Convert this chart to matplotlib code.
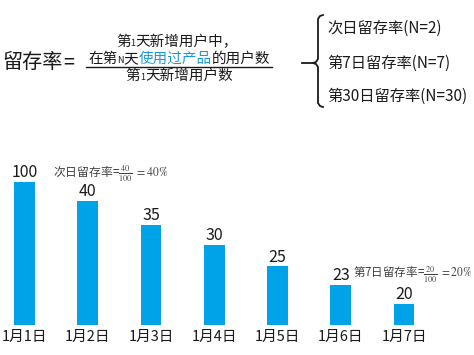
import matplotlib
matplotlib.use("Agg")
import matplotlib.pyplot as plt
from matplotlib.lines import Line2D

plt.rcParams['font.family'] = ['Noto Sans CJK SC', 'DejaVu Sans']
plt.rcParams['mathtext.fontset'] = 'stix'

# ==================== Dados ====================
dias = ["1月1日", "1月2日", "1月3日", "1月4日", "1月5日", "1月6日", "1月7日"]
usuarios = [100, 40, 35, 30, 25, 23, 20]              # rótulos em cima das barras
alturas = [100, 87, 70, 56, 41, 28, 15]               # altura desenhada
tipos = ["次日留存率(N=2)", "第7日留存率(N=7)", "第30日留存率(N=30)"]

W, H = 474, 355
azul = "#00a2e8"
escuro = "#1a1a1a"

fig = plt.figure(figsize=(W / 100, H / 100), dpi=100)


def px(x, y):
    return x / W, 1 - y / H


# ---------- gráfico de barras ----------
# eixo: x=0 em 24.5px, 63.25px por unidade; y=0 em 325px, 1.43px por unidade
ax = fig.add_axes([0, (H - 325) / H, 1, 175 / H])
ax.bar(range(len(dias)), alturas, width=0.33, color=azul)
for i, (a, v) in enumerate(zip(alturas, usuarios)):
    ax.annotate(str(v), (i, a), xytext=(0, 0.5), textcoords="offset points",
                ha="center", va="bottom", fontsize=11.5, color=escuro)
ax.set_xlim(-24.5 / 63.25, (W - 24.5) / 63.25)
ax.set_ylim(0, 175 / 1.43)
ax.axis("off")
for i, d in enumerate(dias):
    ax.text(i, -8.5, d, ha="center", va="center", fontsize=10.5, color=escuro)

ax.text(53 / 63.25 - 24.5 / 63.25, (325 - 174) / 1.43,
        r"次日留存率=$\frac{40}{100}$ $= 40\%$", fontsize=8.5, color="#404040",
        ha="left", va="center")
ax.text(353 / 63.25 - 24.5 / 63.25, (325 - 275) / 1.43,
        r"第7日留存率=$\frac{20}{100}$ $= 20\%$", fontsize=8.3, color="#404040",
        ha="left", va="center")

# ---------- fórmula do topo ----------
renderer = fig.canvas.get_renderer()


def linha(cx, base, partes):
    objs = []
    larg = []
    for s, tam, cor, estilo in partes:
        t = fig.text(0, 0, s, fontsize=tam, color=cor, style=estilo,
                     ha="left", va="baseline")
        objs.append(t)
        larg.append(t.get_window_extent(renderer).width)
    x = cx - sum(larg) / 2
    for t, w in zip(objs, larg):
        t.set_position(px(x, base))
        x += w


fig.text(*px(2, 63), "留存率", fontsize=14.5, color=escuro, ha="left", va="center")
fig.text(*px(63, 63), "=", fontsize=14, color=escuro, ha="left", va="center")

linha(177, 46, [("第", 10.5, escuro, "normal"), ("1", 6.5, escuro, "normal"),
                ("天新增用户中，", 10.5, escuro, "normal")])
linha(179, 63, [("在第", 10.5, escuro, "normal"), ("N", 6.5, escuro, "italic"),
                ("天", 10.5, escuro, "normal"), ("使用过产品", 10.5, "#1a9ad6", "normal"),
                ("的用户数", 10.5, escuro, "normal")])
linha(179, 80, [("第", 10.5, escuro, "normal"), ("1", 6.5, escuro, "normal"),
                ("天新增用户数", 10.5, escuro, "normal")])
fig.add_artist(Line2D([86 / W, 272 / W], [1 - 66.5 / H] * 2, color=escuro, lw=1.0,
                      transform=fig.transFigure))

# ---------- chave e tipos ----------
bx = [323, 320, 318, 318, 316, 313, 316, 318, 318, 320, 323]
by = [15, 16, 19, 59, 62, 63, 64, 67, 103, 106, 107]
fig.add_artist(Line2D([x / W for x in bx], [1 - y / H for y in by], color=escuro,
                      lw=1.3, transform=fig.transFigure))
fig.add_artist(Line2D([302 / W, 314 / W], [1 - 63 / H] * 2, color=escuro, lw=1.3,
                      transform=fig.transFigure))
for s, y in zip(tipos, [28, 63, 96]):
    fig.text(*px(327, y), s, fontsize=11, color=escuro, ha="left", va="center")

fig.savefig("out.png", dpi=100)
